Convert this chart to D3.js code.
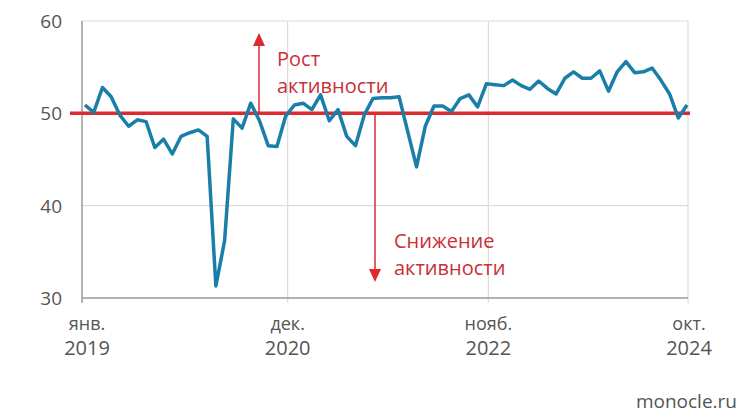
<!DOCTYPE html><html><head><meta charset="utf-8"><script src="https://cdn.jsdelivr.net/npm/d3@7"></script>
<style>body{margin:0;background:#fff}text{font-family:"Open Sans",sans-serif}</style></head><body><svg id="c" width="747" height="418"></svg><script>
const values=[50.9,50.1,52.8,51.8,49.8,48.6,49.3,49.1,46.3,47.2,45.6,47.5,47.9,48.2,47.5,31.3,36.2,49.4,48.4,51.1,49.2,46.5,46.4,49.7,50.9,51.1,50.4,52.0,49.2,50.4,47.5,46.5,49.8,51.6,51.7,51.7,51.8,48.0,44.2,48.6,50.8,50.8,50.2,51.6,52.0,50.7,53.2,53.1,53.0,53.6,53.0,52.6,53.5,52.7,52.1,53.8,54.5,53.8,53.8,54.6,52.4,54.5,55.6,54.4,54.5,54.9,53.6,52.1,49.5,50.9];
const yTicks=[30,40,50,60];
const xTickIdx=[0,23,46,69];
const xTickLabels=[["янв.","2019"],["дек.","2020"],["нояб.","2022"],["окт.","2024"]];
const svg=d3.select("#c");
const x=d3.scaleLinear().domain([0,69]).range([85,687]);
const y=d3.scaleLinear().domain([30,60]).range([298,21]);
const grid="#dcdcdc";
svg.selectAll(".hg").data([40,60]).join("line").attr("x1",82).attr("x2",688).attr("y1",d=>y(d)).attr("y2",d=>y(d)).attr("stroke",grid).attr("stroke-width",1.2);
svg.selectAll(".vg").data([23,46]).join("line").attr("x1",d=>x(d)+2).attr("x2",d=>x(d)+2).attr("y1",21).attr("y2",303).attr("stroke",grid).attr("stroke-width",1.2);
svg.append("line").attr("x1",688).attr("x2",688).attr("y1",21).attr("y2",303).attr("stroke",grid).attr("stroke-width",1.2);
svg.append("line").attr("x1",82).attr("x2",82).attr("y1",21).attr("y2",303).attr("stroke","#9a9a9a").attr("stroke-width",1.5);
svg.append("line").attr("x1",82).attr("x2",688).attr("y1",298).attr("y2",298).attr("stroke","#9a9a9a").attr("stroke-width",1.5);
svg.selectAll(".yl").data(yTicks).join("text").attr("x",62).attr("y",d=>y(d)+7).attr("text-anchor","end").attr("font-size",19).attr("fill","#555").text(d=>d);
xTickIdx.forEach((d,i)=>{[0,1].forEach(k=>svg.append("text").attr("x",x(d)+2).attr("y",k?355:330).attr("text-anchor","middle").attr("font-size",k?20:18).attr("fill","#555").text(xTickLabels[i][k]));});
const red="#dc2a30";
svg.append("line").attr("x1",259).attr("x2",259).attr("y1",y(50)).attr("y2",42).attr("stroke",red).attr("stroke-width",1.5);
svg.append("path").attr("d","M253,46 L259,33 L265,46 Z").attr("fill",red);
svg.append("line").attr("x1",375).attr("x2",375).attr("y1",y(50)).attr("y2",272).attr("stroke",red).attr("stroke-width",1.5);
svg.append("path").attr("d","M369,269 L375,282 L381,269 Z").attr("fill",red);
const tc="#c93038";
[["Рост",277,66],["активности",277,93],["Снижение",394,248],["активности",394,275]].forEach(t=>svg.append("text").attr("x",t[1]).attr("y",t[2]).attr("font-size",20).attr("fill",tc).text(t[0]));
svg.append("line").attr("x1",70).attr("x2",690).attr("y1",y(50)).attr("y2",y(50)).attr("stroke",red).attr("stroke-width",3.5);
svg.append("path").datum(values).attr("d",d3.line().x((d,i)=>x(i)).y(d=>y(d))).attr("fill","none").attr("stroke","#1a7fa8").attr("stroke-width",3.5).attr("stroke-linejoin","round");
svg.append("text").attr("x",737).attr("y",408).attr("text-anchor","end").attr("font-size",19).attr("fill","#555").text("monocle.ru");
</script></body></html>
